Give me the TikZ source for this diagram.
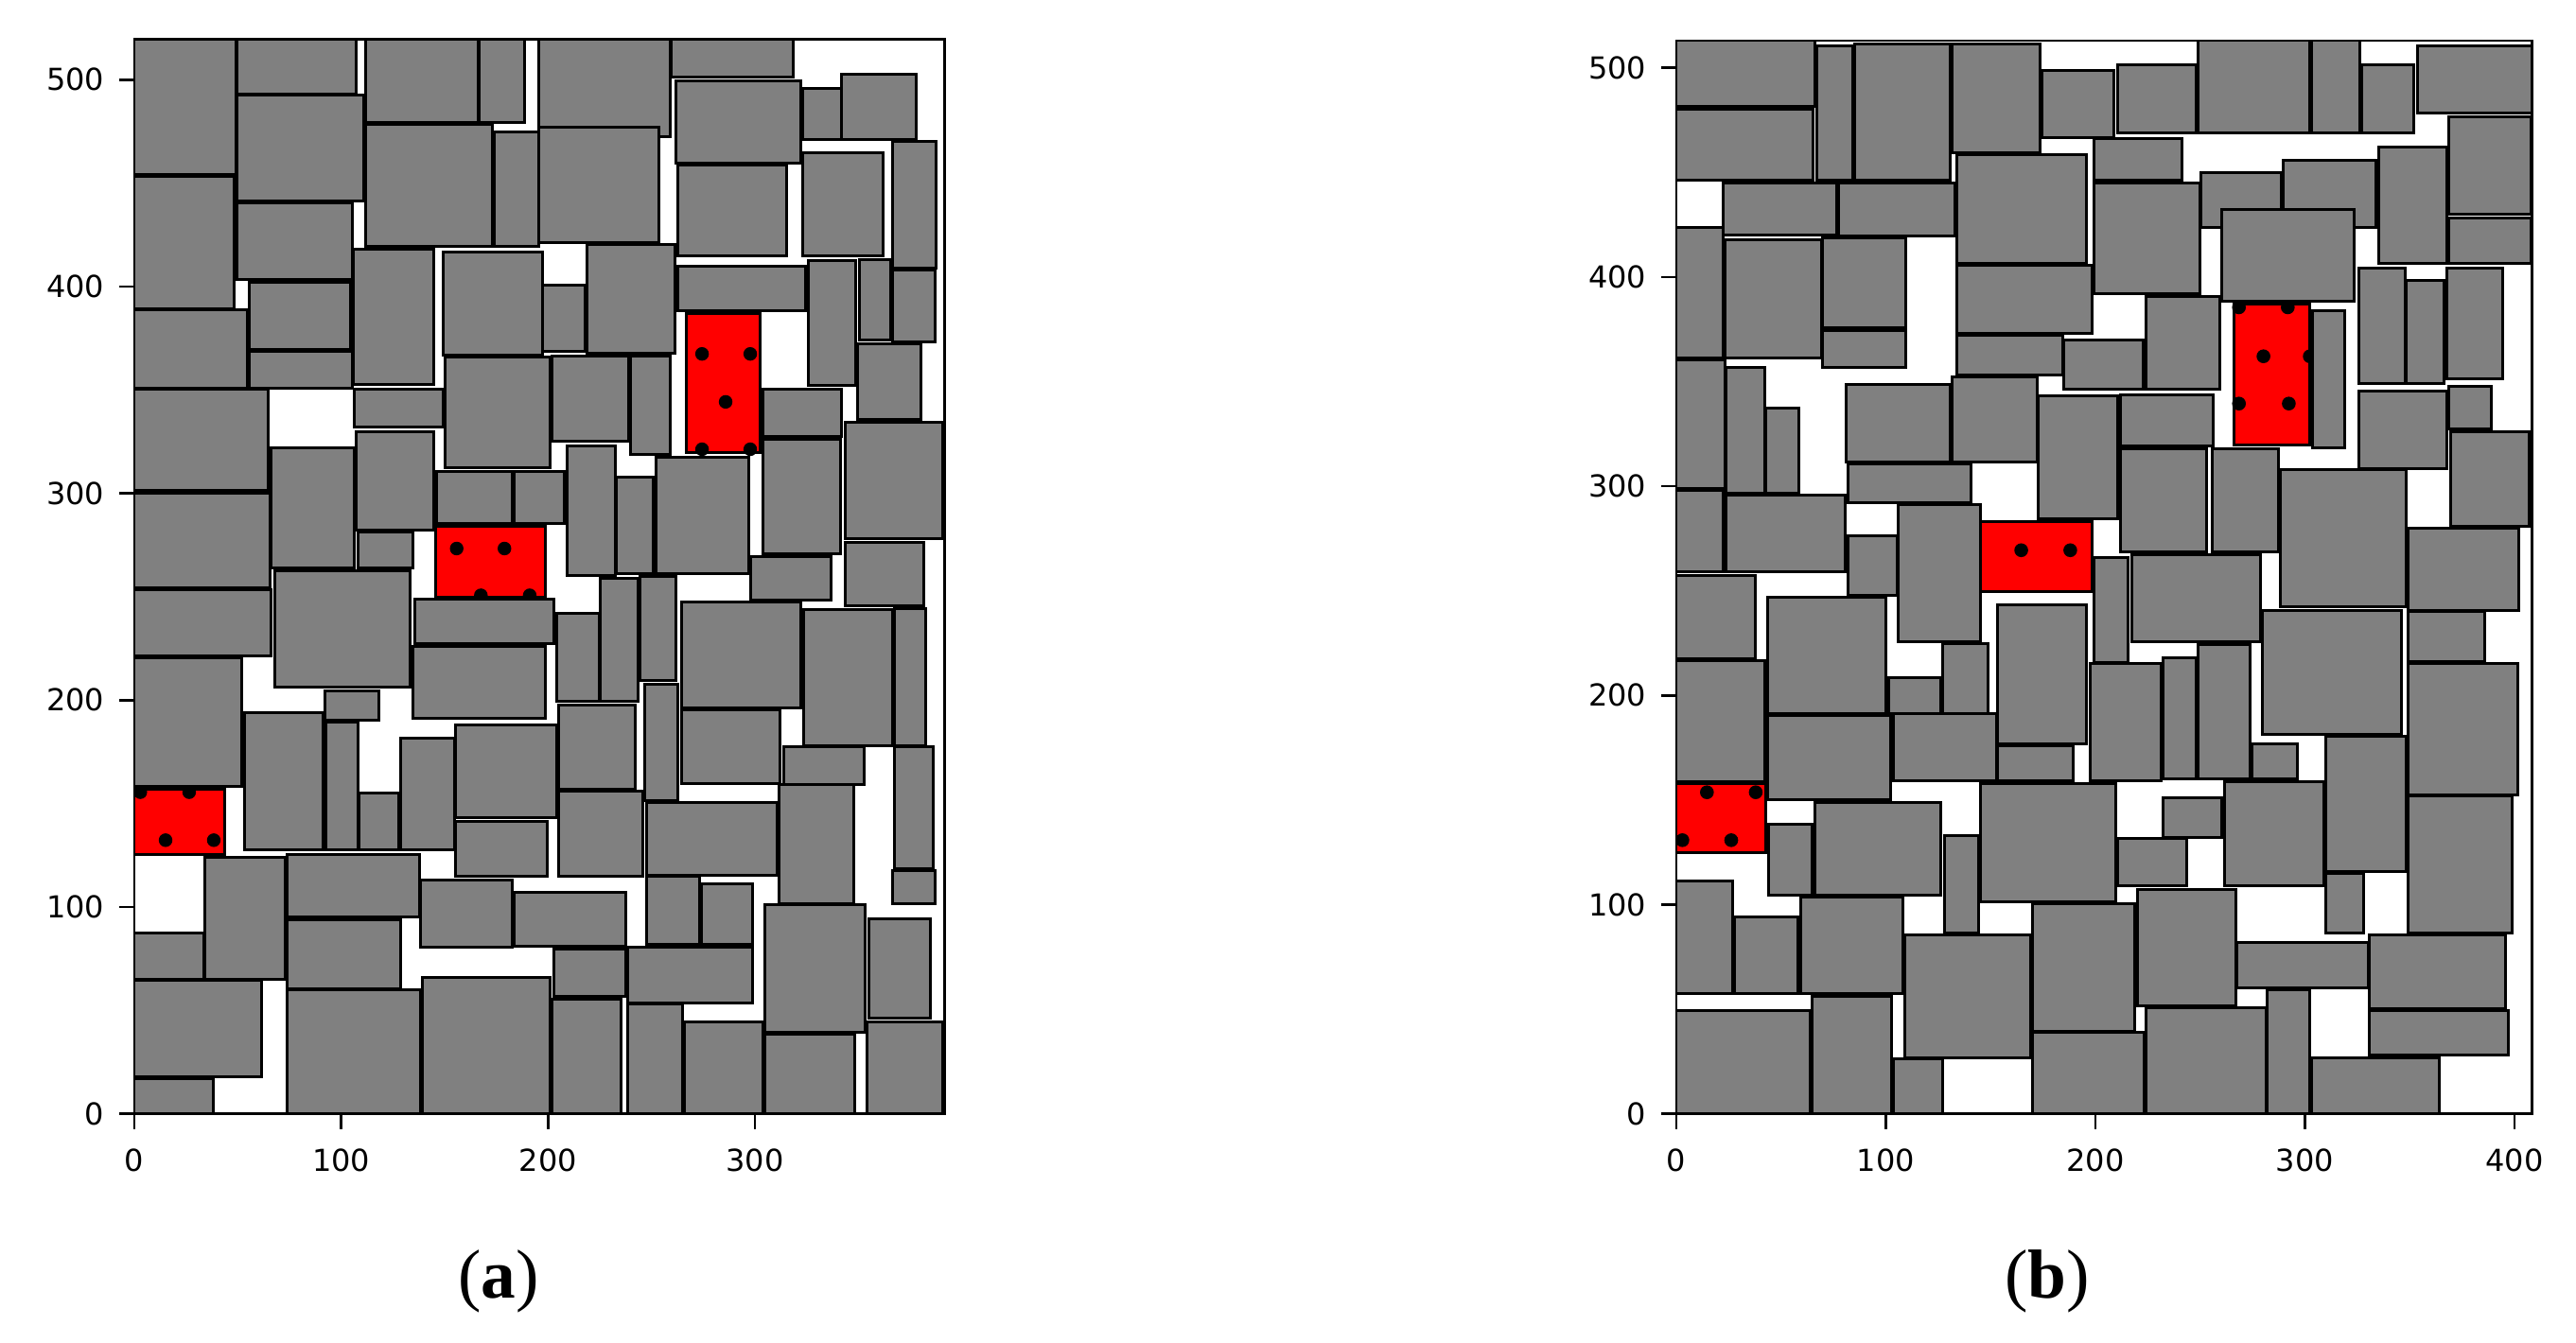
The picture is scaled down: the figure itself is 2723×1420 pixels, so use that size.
\documentclass[tikz,border=0pt]{standalone}
\usepackage{fontspec}
\setmainfont{DejaVu Sans}
\newfontfamily\capfont{Liberation Serif}
\begin{document}
\begin{tikzpicture}[x=0.3pt,y=-0.3pt,
  grayrect/.style={fill={rgb,255:red,128;green,128;blue,128}, draw=black, line width=0.9pt, line join=miter},
  redrect/.style={fill={rgb,255:red,255;green,0;blue,0}, draw=black, line width=0.9pt},
  spine/.style={draw=black, line width=0.8pt},
  tickmark/.style={draw=black, line width=0.8pt},
  ticklab/.style={font=\fontsize{9.6pt}{11pt}\selectfont, inner sep=0pt},
  caplab/.style={font=\capfont\fontsize{22pt}{26pt}\selectfont, inner sep=0pt}]
\useasboundingbox (0,0) rectangle (2723,1420);

% ---------------- plot (a)
\begin{scope}[shift={(42.6pt,-353.31pt)}, x=0.6561pt, y=0.6561pt]
 \begin{scope}
  \clip (0,0) rectangle (391.7,519.4);
  \foreach \a/\b/\c/\d in {266.6/319.8/302.4/386.9, 145.7/249.6/198.7/283.9, 0/125.4/43.6/157}
    \draw[redrect] (\a,\b) rectangle (\c,\d);
  \foreach \p/\q in {274.4/367.4, 297.7/367.4, 285.8/344.2, 274.4/321.3, 297.7/321.3,
     155.8/273.3, 178.9/273.3, 167.5/250.7, 191.1/250.7,
     2.9/155.5, 26.5/155.5, 15.1/132.3, 38.4/132.3}
    \fill[black] (\p,\q) circle (3.3);
  \foreach \a/\b/\c/\d in {0/454/49/519.4, 49.4/493/107/519.4, 111.9/479.5/166.4/519.4, 166.7/479.5/188.4/519.4,
   195.7/472.3/258.9/519.4, 259.7/501.1/318.4/519.4, 49.4/441.2/110.8/492.4, 0/389.4/48.3/453.1,
   49.4/403.3/105.2/440.5, 111.9/419.3/173.1/478.3, 173.8/419.3/195.7/474.5, 0/351/54.7/388.7,
   55.5/369.4/104.3/402.2, 55.5/351/105.2/368.6, 105.8/352.5/144.8/418, 149.4/367/197.2/416.8,
   150/312.2/201/366, 342/471.1/377.9/502.7, 323/471.1/342/495.9, 262/459.5/322.2/499.6,
   195.7/421.1/253.6/476.8, 262.8/414.7/315.3/458.5, 323/415/361.9/464.6, 366.4/409/387.7/470.2,
   366.4/373.1/386.9/408, 262.8/388.4/324.5/409.7, 197.2/368.5/217.8/400.5, 218.6/367.8/261.2/420.4,
   201.8/325.1/239.1/366.3, 239.9/319/258.9/366.3, 326/352.1/348.8/412.3, 350.4/373.9/365.6/412.8,
   349.6/335.8/380.1/372.4, 303.9/327.4/341.9/350.3, 0/301.5/64.6/350.3, 106.5/331.9/149.2/350.3,
   66.1/264.1/106.5/322.1, 107.3/282.4/144.6/329.7, 108.1/264.1/134.7/281.2, 146.2/285.5/182.7/310.6,
   183.5/285.5/207.9/310.6, 0/254.2/65.4/300, 0/221.5/66.1/253.5, 67.7/206.2/133.2/262.6,
   135.5/227.5/202.6/248.9, 134.7/191/198.7/226, 343.5/277.9/390.8/334.3, 303.9/271/341.3/325.9,
   252.1/261.1/297.1/317.5, 233/261.1/250.6/307.6, 209.4/260.3/232.3/322.8, 297.8/248.2/336.7/269.5,
   343.5/245.8/381.6/276.3, 204.1/199.3/224.7/242, 225.4/199.3/243.7/258.7, 244.5/209.3/262/259.6,
   264.3/196.3/322.2/247.4, 323.7/178.1/366.4/243.6, 367.2/178.1/382.4/244.3, 0/158.2/51.7/220.7,
   53.2/127.7/91.3/194, 92.1/190.2/118/204.7, 92.8/127.7/108.1/189.4, 108.8/127.7/127.9/155.2,
   128.6/127.7/154.6/181.8, 155.3/143/204/188, 155.3/114.8/199.5/141.4, 204.9/156.7/242.3/197.8,
   246.8/151.3/262.8/207.7, 264.3/159.7/312.3/195.2, 313.8/159/352.6/177.3, 367.2/118.6/386.3/177.3,
   366.4/101.8/387/117.8, 204.9/114.8/246/155.9, 247.8/115.5/310.9/150.6, 311.7/101.8/347.6/159,
   183.5/81.2/237.6/107.2, 138.5/80.5/182.7/113.2, 34.1/65.2/73/123.9, 0/65.2/33.4/87.3,
   73.8/95/137.8/125.4, 73.8/60.6/128.6/93.7, 247.8/82/273.4/114.8, 274.2/82/298.6/111,
   304.6/39.3/353.4/101, 355/46.1/384.6/94.1, 202.6/56.9/237.6/79.7, 238.4/53.8/298.6/80.5,
   0/18/61.6/64.5, 0/0/38/17.2, 73.8/0/138.5/59.9, 139.3/0/201/66, 201.8/0/235.3/55.3,
   238.4/0/265/53, 265.8/0/303.9/44.6, 304.6/0/348/38.6, 354.1/0/390.7/44.6}
    \draw[grayrect] (\a,\b) rectangle (\c,\d);
 \end{scope}
 \draw[spine] (0,0) rectangle (391.7,519.4);
 \foreach \v in {0,100,200,300} {
   \draw[tickmark] (\v,0) -- (\v,-7.3);
   \node[ticklab] (ax\v) at (\v,-22.5) {\v};
 }
 \foreach \v in {0,100,200,300,400,500} {
   \draw[tickmark] (0,\v) -- (-7.3,\v);
   \node[ticklab, anchor=east] (ay\v) at (-14.2,\v) {\v};
 }
\end{scope}

% ---------------- plot (b)
\begin{scope}[shift={(531.6pt,-353.31pt)}, x=0.6645pt, y=0.6636pt]
 \begin{scope}
  \clip (0,0) rectangle (408.4,513);
  \foreach \a/\b/\c/\d in {266.2/319.9/302.3/387, 145.1/249.8/198.5/283, 0/124.8/42.7/157.9}
    \draw[redrect] (\a,\b) rectangle (\c,\d);
  \foreach \p/\q in {268.5/385.5, 291.8/385.5, 280.2/362.1, 302.3/362.1, 268.5/339.5, 292.3/339.5,
     164.6/269.4, 188/269.4,
     14.6/153.7, 37.9/153.7, 2.9/130.8, 26.2/130.8}
    \fill[black] (\p,\q) circle (3.3);
  \foreach \a/\b/\c/\d in {0/481.5/66/513, 0/446.5/65.3/480.4, 67.1/446.5/84.1/510.5, 85.2/446.5/130.8/511.3,
   131.5/459.3/173.7/511.3, 174.4/466.8/209/498.5, 22.4/420.1/76.6/445, 77.4/419.4/133/445,
   0/361.4/22.4/423.6, 23.2/361.4/69.1/417.9, 69.8/375.7/109.7/418.6, 69.8/356.9/109.7/374.5,
   133.8/406.6/195.5/458.6, 133.8/373/198.5/405.8, 133.8/353.1/184.2/372, 185/346.3/222.6/369.7,
   131.5/311.6/172.2/352.3, 81.1/311.6/130.8/348.6, 0/298.8/23.2/360.6, 23.9/296.6/42/356.9,
   210.5/469.1/248.2/501.5, 248.9/469.1/302.3/513, 303.1/469.1/326.4/513, 327.1/469.1/352/501.5,
   353.5/478.2/408.4/510.6, 368.5/429.9/407.7/476.7, 368.5/406.6/407.7/428.4, 199.2/446.5/241.4/466.1,
   199.3/392/249.7/445, 250.5/423.5/288.8/449.9, 289.8/423.5/333.9/455.9, 335.4/406.6/367.8/461.9,
   260.2/388.5/323.4/432.2, 224.1/346.3/259.4/390.8, 303.8/318.4/318.8/384, 325.9/349.2/347.8/404.2,
   348.2/349.2/366.3/398.2, 367.8/351.5/394.2/404.2, 325.9/308.6/367.8/345.6, 368.5/327.5/388.9/347.8,
   212/319.2/256/343.5, 172.9/284.5/210.5/343.3, 212/268.7/252.9/317.7, 255.7/268.7/287.3/317.7,
   288.1/242.3/348.2/307.9, 369.3/280.7/406.9/326, 349/240.8/402.2/280, 199.5/215.9/215.8/265.7,
   217.3/225.7/279/267.2, 279.8/181.3/346/240.8, 349/216/385.8/240, 349/152.6/401.6/215.2,
   197.5/159.4/231.6/215.2, 232.4/160.2/248.2/218.2, 248.9/160.2/273.8/224.2, 274.5/160.2/296.3/176.8,
   309.9/115.7/348.2/180.5, 42.7/296.6/58.5/337.3, 81.9/292/140.6/310.7, 0/258.9/22.4/298,
   23.9/258.9/80.4/295.8, 81.9/247.6/105.2/276.2, 106/225.7/145.1/291.2, 0/217.4/37.5/257.4,
   43.5/191.1/99.9/246.8, 127/191.4/148.8/224.9, 101.4/191.4/126.3/208.4, 153.4/176.8/195.5/243.1,
   0/158.7/42/216.7, 43.5/150.4/102.2/190.4, 103.7/159.4/152.6/191.1, 153.4/159.4/189.5/175.9,
   145.1/101.4/209.8/157.9, 44.2/104.4/64.6/138.3, 66.1/104.4/126.3/148.9, 127.8/86.3/144.3/133,
   0/57.7/26.9/111.2, 27.7/57.7/57.8/93.9, 59.3/57.7/108.2/103.7, 109/26.8/169.1/85.6,
   169.9/39.6/218.8/100.6, 169.9/0/223.3/38.9, 0/0/63.8/49.4, 64.6/0/102.9/56.2, 103.7/0/127/26.1,
   232.4/132.3/260.2/151.1, 261.7/109/309.1/158.7, 210.5/109/243.7/131.6, 220.3/51.7/267/107.4,
   310.1/86.3/328.1/115, 349/86.3/398.7/151.9, 267.7/60/330.2/81.8, 330.9/50.2/395.7/85.6,
   330.9/28.3/397.2/49.4, 282/0/302.3/59.2, 303.1/0/363.9/26.8, 224.1/0/281.3/50.9}
    \draw[grayrect] (\a,\b) rectangle (\c,\d);
 \end{scope}
 \draw[spine] (0,0) rectangle (408.4,513);
 \foreach \v in {0,100,200,300,400} {
   \draw[tickmark] (\v,0) -- (\v,-7.2);
   \node[ticklab] (bx\v) at (\v,-22.2) {\v};
 }
 \foreach \v in {0,100,200,300,400,500} {
   \draw[tickmark] (0,\v) -- (-7.2,\v);
   \node[ticklab, anchor=east] (by\v) at (-14,\v) {\v};
 }
\end{scope}

\node[caplab] (capa) at (527,1355) {(\textbf{a})};
\node[caplab] (capb) at (2164,1355) {(\textbf{b})};
\end{tikzpicture}
\end{document}
